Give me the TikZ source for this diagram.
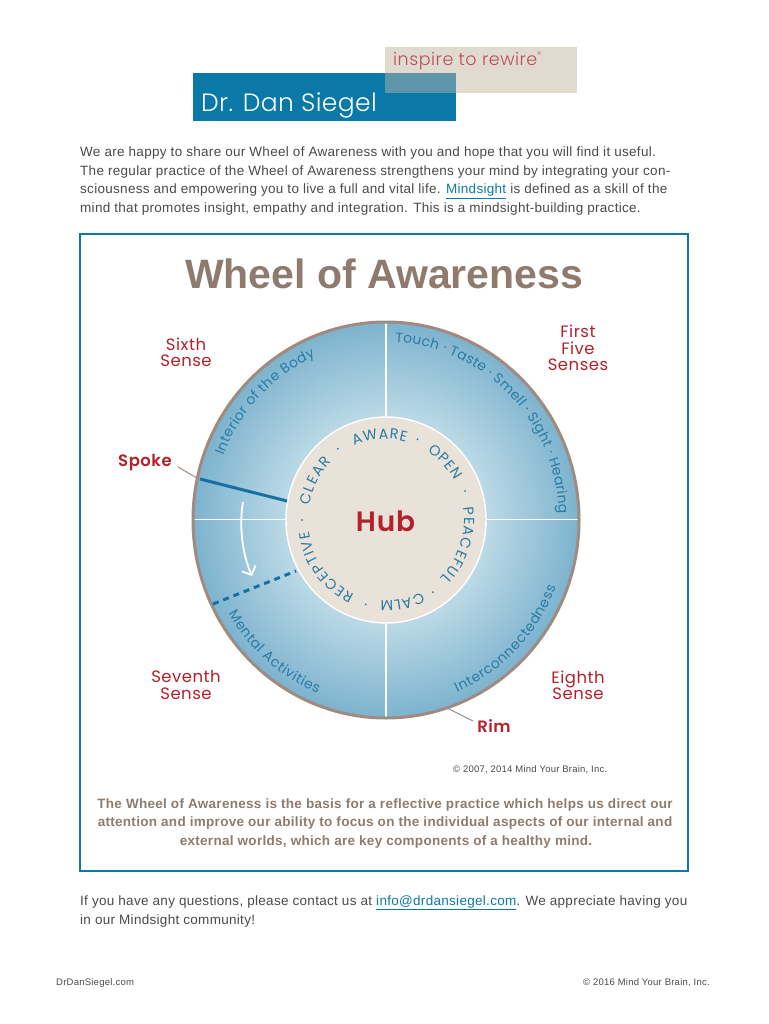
\documentclass[tikz,border=0pt]{standalone}
\usepackage{fontspec}
\setmainfont{Liberation Sans}
\newfontfamily\bodyf[LetterSpace=2.2]{Liberation Sans}
\newfontfamily\smallf[LetterSpace=2.5]{Liberation Sans}
\newfontfamily\pop{Poppins}
\newfontfamily\poplog[LetterSpace=1.5]{Poppins Light}
\newfontfamily\poptag[LetterSpace=3]{Poppins Light}
\newfontfamily\popsen[LetterSpace=3]{Poppins}
\newfontfamily\popb[LetterSpace=3]{Poppins SemiBold}
\usetikzlibrary{decorations.text,arrows.meta}
\definecolor{dsblue}{HTML}{0B79A8}
\definecolor{dsbeige}{HTML}{E1DACE}
\definecolor{dsover}{HTML}{5F95A8}
\definecolor{dsrose}{HTML}{B8505A}
\definecolor{dsbrown}{HTML}{8F7B6D}
\definecolor{dsrim}{HTML}{A08B80}
\definecolor{dsred}{HTML}{B3212B}
\definecolor{dshub}{HTML}{E8E2D8}
\definecolor{dsbody}{HTML}{4A4A4A}
\definecolor{dstext}{HTML}{2A7BA6}
\definecolor{dsspoke}{HTML}{17709F}
\definecolor{whin}{HTML}{D4E7EF}
\definecolor{whmid}{HTML}{BEDBE7}
\definecolor{whout}{HTML}{7DB3CE}
\pgfdeclareradialshading{wheelshade}{\pgfpoint{0bp}{0bp}}{color(0bp)=(whin); color(12.5bp)=(whmid); color(25bp)=(whout); color(50bp)=(whout)}
\newcommand{\ringfont}{\pop\fontsize{14.5}{15}\selectfont\color{dstext}}
\newcommand{\spokefont}{\pop\fontsize{13.8}{15}\selectfont\color{dstext}}
\newcommand{\ringword}[3]{%
  \path[shift={(386,520)},decorate,decoration={text along path,text align=fit to path,text={|\ringfont|#3}}]
   (#1:78pt and 81pt) arc[start angle=#1,end angle=#2,x radius=78pt,y radius=81pt];}
\newcommand{\ringdot}[1]{\fill[dstext,shift={(386,520)}] (#1:84pt and 87pt) circle[radius=1pt];}
\newcommand{\rimtext}[5]{%
  \path[shift={(386,520)},decorate,decoration={text along path,text align=fit to path,text={|\spokefont|#5}}]
   (#1:#3pt and #4pt) arc[start angle=#1,end angle=#2,x radius=#3pt,y radius=#4pt];}
\tikzset{
  bodyline/.style={anchor=base west,inner sep=0,text=dsbody,font=\bodyf\fontsize{13.5}{14}\selectfont},
  smallline/.style={anchor=base west,inner sep=0,text=dsbody,font=\smallf\fontsize{9.5}{10}\selectfont},
  sense/.style={align=center,inner sep=0,text=dsred,font=\popsen\fontsize{16.5}{16.3}\selectfont},
  pointer/.style={anchor=base,inner sep=0,text=dsred,font=\popb\fontsize{16.5}{17}\selectfont},
  closing/.style={anchor=base,inner sep=0,text=dsbrown,font=\bodyf\bfseries\fontsize{13.5}{14}\selectfont},
  leader/.style={draw=dsrim,line width=1pt},
  spokeline/.style={draw=dsspoke,line width=3pt},
  divider/.style={draw=white,line width=0.9pt}
}
\begin{document}
\begin{tikzpicture}[x=1pt,y=-1pt]
\useasboundingbox (0,0) rectangle (768,1024);
\fill[white] (0,0) rectangle (768,1024);
% logo
\fill[dsbeige] (385,47) rectangle (577,93);
\fill[dsblue] (193,73) rectangle (456,121);
\fill[dsover] (385,73) rectangle (456,93);
\node[anchor=base west,inner sep=0,text=dsrose,font=\poptag\fontsize{17.5}{18}\selectfont] (tag) at (393,66) {inspire to rewire\raisebox{0.5em}{\fontsize{8}{8}\selectfont ®}};
\node[anchor=base west,inner sep=0,text=white,font=\poplog\fontsize{25}{26}\selectfont] (name) at (201,112) {Dr. Dan Siegel};
% intro
\node[bodyline] (l1) at (80,157) {We are happy to share our Wheel of Awareness with you and hope that you will find it useful.};
\node[bodyline] (l2) at (80,175.7) {The regular practice of the Wheel of Awareness strengthens your mind by integrating your con-};
\node[bodyline] (l3) at (80,194) {sciousness and empowering you to live a full and vital life. \textcolor{dsblue}{\underline{Mindsight}} is defined as a skill of the};
\node[bodyline] (l4) at (80,212.5) {mind that promotes insight, empathy and integration. This is a mindsight-building practice.};
% frame
\draw[dsblue,line width=2pt] (80,234) rectangle (688,871);
\node[anchor=base,inner sep=0,text=dsbrown,font=\bfseries\fontsize{41}{43}\selectfont] (title) at (384,288) {Wheel of Awareness};
% wheel
\coordinate (wheelc) at (386,520);
\shade[shading=wheelshade] (wheelc) ellipse[x radius=193,y radius=198];
\coordinate (vt) at (386,322); \coordinate (vb) at (386,718);
\coordinate (hl) at (193,519); \coordinate (hr) at (579,519);
\draw[divider,line width=1.3pt] (vt) -- (vb);
\draw[divider] (hl) -- (hr);
\draw[dsrim,line width=3pt] (wheelc) ellipse[x radius=193,y radius=198];
\fill[dshub,draw=white,line width=1.4pt] (wheelc) ellipse[x radius=100,y radius=103];
% spokes
\coordinate (sa) at (200,479); \coordinate (sb) at (287,501);
\coordinate (da) at (213,604); \coordinate (db) at (296,571);
\draw[spokeline] (sa) -- (sb);
\draw[spokeline,dash pattern=on 6pt off 5pt] (da) -- (db);
\coordinate (wa) at (243,502); \coordinate (wb) at (252,576);
\draw[white,line width=1.8pt,-{Straight Barb[length=7pt,width=15pt]}] (wa) .. controls (239,525) and (242,553) .. (wb);
% ring text
\ringword{114}{75}{AWARE}\ringword{58}{29}{OPEN}\ringword{9}{-46}{PEACEFUL}\ringword{-63}{-94}{CALM}\ringword{-114}{-172}{RECEPTIVE}\ringword{170}{134}{CLEAR}
\ringdot{68}\ringdot{19.5}\ringdot{-56}\ringdot{-104}\ringdot{180}\ringdot{125}
\node[inner sep=0,text=dsred,font=\popb\fontsize{28}{29}\selectfont] (hub) at (385.5,521) {Hub};
% rim text
\rimtext{87}{2}{173}{178}{Touch · Taste · Smell · Sight · Hearing}
\rimtext{159}{114}{174}{179}{Interior of the Body}
\rimtext{210}{248}{182}{187}{Mental Activities}
\rimtext{293}{339}{182}{187}{Interconnectedness}
% labels
\node[sense] (sixth) at (186,352) {Sixth\\Sense};
\node[sense] (first) at (578,348) {First\\Five\\Senses};
\node[sense] (seventh) at (186,685) {Seventh\\Sense};
\node[sense] (eighth) at (578,685) {Eighth\\Sense};
\node[pointer] (spoke) at (145,466) {Spoke};
\node[pointer] (rim) at (494,732) {Rim};
\coordinate (sl) at (178,467); \coordinate (rl) at (473,721); \coordinate (rs) at (447,708); \coordinate (ss) at (197,478);
\draw[leader] (sl) -- (ss);
\draw[leader] (rs) -- (rl);
% caption
\node[smallline] (copy) at (453,772) {© 2007, 2014 Mind Your Brain, Inc.};
\node[closing] (c1) at (385,808) {The Wheel of Awareness is the basis for a reflective practice which helps us direct our};
\node[closing] (c2) at (385,826) {attention and improve our ability to focus on the individual aspects of our internal and};
\node[closing] (c3) at (386,845) {external worlds, which are key components of a healthy mind.};
% outro
\node[bodyline] (o1) at (80,905) {If you have any questions, please contact us at \textcolor{dsblue}{\underline{info@drdansiegel.com}}. We appreciate having you};
\node[bodyline] (o2) at (80,924) {in our Mindsight community!};
\node[smallline] (f1) at (56,985) {DrDanSiegel.com};
\node[smallline] (f2) at (583,985) {© 2016 Mind Your Brain, Inc.};
\end{tikzpicture}
\end{document}
